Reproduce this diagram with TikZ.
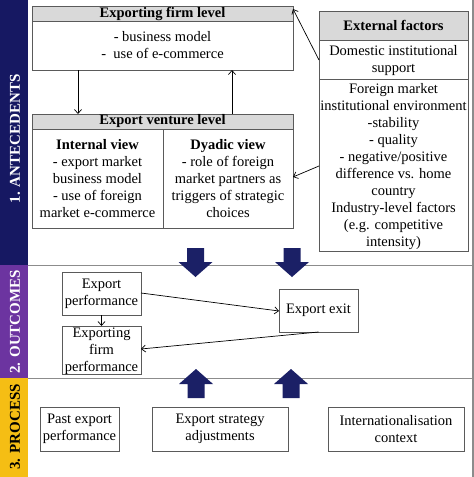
\documentclass[tikz,border=0pt]{standalone}
\usepackage{fontspec}
\setmainfont{Liberation Serif}
\usetikzlibrary{arrows.meta,calc}
\definecolor{navyband}{RGB}{22,24,98}
\definecolor{purpleband}{RGB}{108,52,160}
\definecolor{yellowband}{RGB}{245,190,20}
\definecolor{navyarrow}{RGB}{27,32,102}
\definecolor{boxgray}{RGB}{90,90,90}
\definecolor{hdrgray}{RGB}{217,217,217}
\definecolor{linegray}{RGB}{140,140,140}
\newcommand\fs{\fontsize{14.5}{17}\selectfont}
\begin{document}
\begin{tikzpicture}[x=1pt,y=-1pt,
  box/.style={draw=boxgray, line width=0.8pt, inner sep=0pt, outer sep=0pt},
  hdr/.style={box, fill=hdrgray, font=\bfseries\fs},
  txt/.style={align=center, font=\fs, inner sep=0pt},
  conn/.style={-{Straight Barb[length=4pt,width=7pt]}, line width=0.7pt, black},
  side/.style={rotate=90, font=\bfseries\fontsize{15}{15}\selectfont, inner sep=0pt},
  downarr/.pic={\fill[navyarrow] (-8.5,0) -- (8.5,0) -- (8.5,14) -- (17,14) -- (0,29) -- (-17,14) -- (-8.5,14) -- cycle;},
  uparr/.pic={\fill[navyarrow] (-8.5,0) -- (8.5,0) -- (8.5,-14) -- (17,-14) -- (0,-29) -- (-17,-14) -- (-8.5,-14) -- cycle;}
]
\useasboundingbox (0,0) rectangle (474,477);
\fill[white] (0,0) rectangle (474,477);
% side bands
\fill[navyband] (0,0) rectangle (28,265);
\fill[purpleband] (0,265) rectangle (28,378);
\fill[yellowband] (0,378) rectangle (28,477);
\node[side, text=white] (s1) at (15,139) {1. ANTECEDENTS};
\node[side, text=white] (s2) at (15,322) {2. OUTCOMES};
\node[side, text=black] (s3) at (15,427) {3. PROCESS};
% section lines and frame
\draw[linegray, line width=1pt] (28,265) -- (473,265);
\draw[linegray, line width=1pt] (28,378) -- (473,378);
\draw[linegray, line width=1.6pt] (473,0) -- (473,477);

% Exporting firm level
\node[box, minimum width=261pt, minimum height=64pt] (firm) at (162.5,38) {};
\node[hdr, minimum width=261pt, minimum height=15pt, anchor=north] (firmh) at (firm.north) {Exporting firm level};
\node[txt] (firmt) at (162.5,45.5) {- business model\\-\ \ use of e-commerce};

% Export venture level
\node[box, minimum width=261pt, minimum height=114pt] (ven) at (162.5,171) {};
\node[hdr, minimum width=261pt, minimum height=15pt, anchor=north] (venh) at (ven.north) {Export venture level};
\coordinate (divx) at (163,0);
\draw[boxgray, line width=0.8pt] (venh.south -| divx) -- (ven.south -| divx);
\node[txt] (internal) at (97.5,179) {\textbf{Internal view}\\- export market\\business model\\- use of foreign\\market e-commerce};
\node[txt] (dyadic) at (228,179) {\textbf{Dyadic view}\\- role of foreign\\market partners as\\triggers of strategic\\choices};

% External factors
\node[box, minimum width=149pt, minimum height=240pt] (ext) at (393.5,131) {};
\node[hdr, minimum width=149pt, minimum height=29pt, anchor=north] (exth) at (ext.north) {External factors};
\coordinate (extdiv) at (0,79);
\draw[boxgray, line width=0.8pt] (ext.west |- extdiv) -- (ext.east |- extdiv);
\node[txt] (dom) at (393.5,60.5) {Domestic institutional\\support};
\node[txt] (foreign) at (393.5,167) {Foreign market\\institutional environment\\-stability\\- quality\\- negative/positive\\difference vs. home\\country\\Industry-level factors\\(e.g. competitive\\intensity)};

% arrows in antecedents
\coordinate (downx) at (78,0);
\coordinate (upx) at (232,0);
\draw[conn] (firm.south -| downx) -- (venh.north -| downx);
\draw[conn] (venh.north -| upx) -- (firm.south -| upx);
\coordinate (a1) at (293,9);
\draw[conn] (ext.west |- 0,60) -- (a1);
\draw[conn] (ext.west |- 0,166) -- (ven.east |- 0,177);

% block arrows
\pic at (195.5,248) {downarr};
\pic at (292,248) {downarr};
\pic at (196,398) {uparr};
\pic at (291,398) {uparr};

% Outcomes
\node[box, minimum width=79pt, minimum height=43pt] (ep) at (101.5,293.5) {};
\node[txt] (ept) at (ep.center) {Export\\performance};
\node[box, minimum width=79pt, minimum height=48pt] (efp) at (101.5,350) {};
\node[txt] (efpt) at (101.5,351.5) {Exporting\\firm\\performance};
\node[box, minimum width=79pt, minimum height=43pt] (exit) at (318.5,310.5) {};
\node[txt] (exitt) at (exit.center) {Export exit};
\draw[conn] (ep.south) -- (efp.north);
\draw[conn] (ep.east |- 0,293) -- (exit.west |- 0,311);
\draw[conn] (exit.south) -- (efp.east |- 0,349);

% Process
\node[box, minimum width=79pt, minimum height=44pt] (past) at (79.5,429) {};
\node[txt] (pastt) at (past.center) {Past export\\performance};
\node[box, minimum width=136pt, minimum height=44pt] (strat) at (220,429) {};
\node[txt] (stratt) at (strat.center) {Export strategy\\adjustments};
\node[box, minimum width=136pt, minimum height=44pt] (ctx) at (396,429) {};
\node[txt] (ctxt) at (ctx.center) {Internationalisation\\context};
\end{tikzpicture}
\end{document}
